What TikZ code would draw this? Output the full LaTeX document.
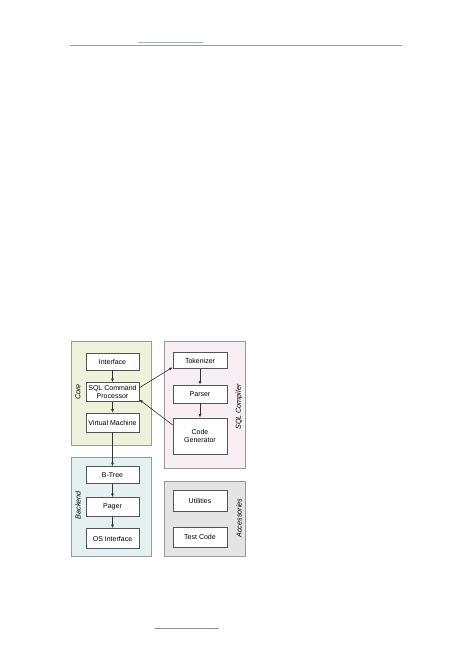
\documentclass[tikz,border=0pt]{standalone}
\usepackage{fontspec}
\setmainfont{Liberation Sans}
\usetikzlibrary{arrows.meta}
\definecolor{corefill}{HTML}{EEF2DA}
\definecolor{compfill}{HTML}{F8EFF4}
\definecolor{backfill}{HTML}{E5F0F0}
\definecolor{accfill}{HTML}{E4E4E4}
\definecolor{grpline}{HTML}{9A9A9A}
\definecolor{boxline}{HTML}{555555}
\definecolor{linkblue}{HTML}{9FB4C4}
\definecolor{footblue}{HTML}{8A90A8}
\tikzset{
  grp/.style={draw=grpline, line width=0.8pt, inner sep=0pt},
  inbox/.style={draw=boxline, fill=white, line width=0.7pt, inner sep=0pt,
    minimum width=53pt, align=center, font=\fontsize{7}{8}\selectfont},
  grplabel/.style={rotate=90, font=\fontsize{7.2}{8}\selectfont\itshape, inner sep=0pt},
  arr/.style={draw=black!80, line width=0.6pt, -{Latex[length=3.5pt,width=3pt]}},
}
\begin{document}
\begin{tikzpicture}[x=1pt,y=-1pt]
\useasboundingbox[fill=white] (0,0) rectangle (474,670);
% page header / footer rules
\draw[gray!75, line width=0.8pt] (70,45) -- (402,45);
\draw[linkblue, line width=0.8pt] (138,42) -- (203,42);
\draw[footblue, line width=0.8pt] (155,628) -- (219,628);
% group boxes
\node[grp, fill=corefill, minimum width=80pt, minimum height=104pt] (core) at (111,393) {};
\node[grp, fill=backfill, minimum width=80pt, minimum height=99pt] (backend) at (111,506.5) {};
\node[grp, fill=compfill, minimum width=81pt, minimum height=127pt] (compiler) at (205,404.5) {};
\node[grp, fill=accfill, minimum width=81pt, minimum height=75pt] (access) at (205,518.5) {};
% group labels
\node[grplabel] (corelbl) at (78,392) {Core};
\node[grplabel] (backlbl) at (78,505) {Backend};
\node[grplabel] (complbl) at (239,407) {SQL Compiler};
\node[grplabel] (acclbl) at (239,518) {Accessories};
% core
\node[inbox, minimum height=17pt] (iface) at (112.5,361.5) {Interface};
\node[inbox, minimum height=19pt] (sql) at (112.5,392) {SQL Command\\Processor};
\node[inbox, minimum height=19pt] (vm) at (112.5,422.5) {Virtual Machine};
% backend
\node[inbox, minimum height=17pt] (btree) at (112.5,475) {B-Tree};
\node[inbox, minimum height=19pt] (pager) at (112.5,507) {Pager};
\node[inbox, minimum height=20pt] (os) at (112.5,538.5) {OS Interface};
% compiler
\node[inbox, minimum width=54pt, minimum height=16pt] (tok) at (200,360.5) {Tokenizer};
\node[inbox, minimum width=54pt, minimum height=18pt] (parser) at (200,394) {Parser};
\node[inbox, minimum width=54pt, minimum height=36pt] (cg) at (200,436) {Code\\Generator};
% accessories
\node[inbox, minimum width=54pt, minimum height=21pt] (util) at (200,500.5) {Utilities};
\node[inbox, minimum width=54pt, minimum height=20pt] (test) at (200,537) {Test Code};
% connectors
\draw[arr] (iface) -- (sql);
\draw[arr] (sql) -- (vm);
\draw[arr] (vm) -- (btree);
\draw[arr] (btree) -- (pager);
\draw[arr] (pager) -- (os);
\draw[arr] (tok) -- (parser);
\draw[arr] (parser) -- (cg);
\draw[arr] (sql.9) -- (tok.194);
\draw[arr] (cg.158) -- (sql.-16);
\end{tikzpicture}
\end{document}
